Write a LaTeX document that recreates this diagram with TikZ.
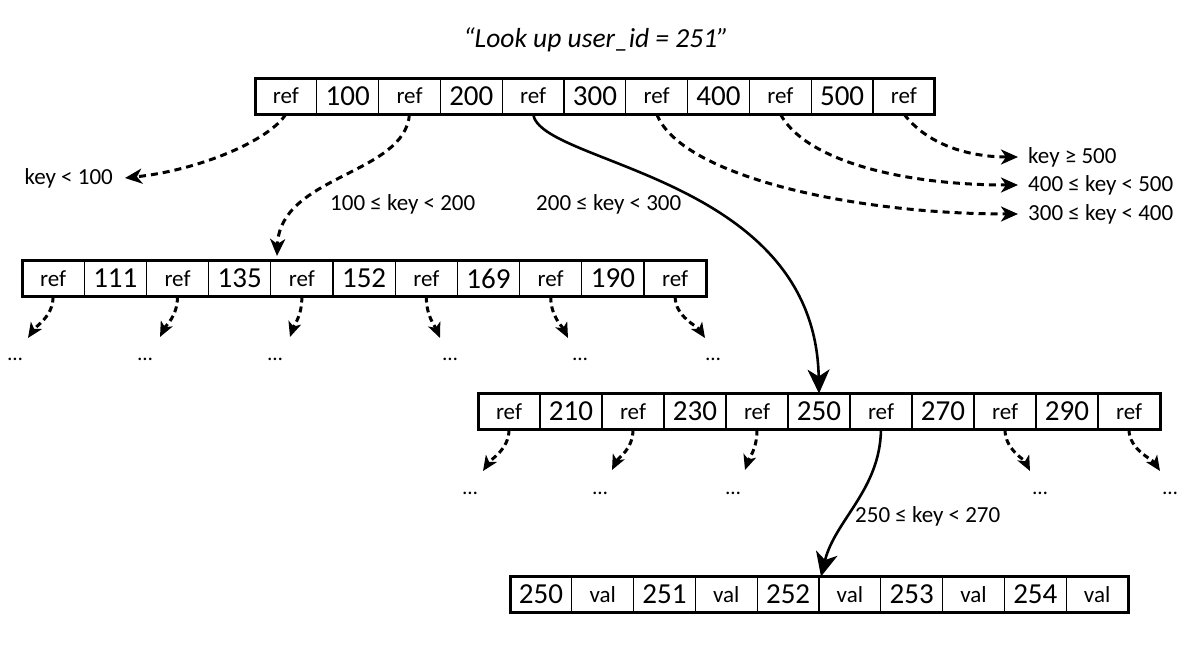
\documentclass[tikz,border=0pt]{standalone}
\usepackage{fontspec}
\setmainfont{Carlito}
\usetikzlibrary{arrows.meta}
\begin{document}
\begin{tikzpicture}[x=1pt,y=-1pt,
  cell/.style={draw, line width=1.1pt, minimum height=36pt, inner sep=0pt, outer sep=0pt, anchor=west},
  num/.style={font=\fontsize{29}{30}\selectfont},
  small/.style={font=\fontsize{23}{24}\selectfont},
  lbl/.style={font=\fontsize{23}{24}\selectfont, inner sep=2pt},
  dots/.style={font=\fontsize{21}{24}\selectfont, inner sep=0pt},
  outline/.style={draw, line width=3pt},
  dasharr/.style={line width=3pt, dash pattern=on 7pt off 5pt, -{Stealth[length=17pt,width=15pt,inset=5pt]}},
  shortarr/.style={line width=3pt, dash pattern=on 6pt off 4pt, -{Stealth[length=15pt,width=13pt,inset=4pt]}},
  solidarr/.style={line width=2.6pt, -{Stealth[length=24pt,width=22pt,inset=7pt]}}
]
\useasboundingbox (0,0) rectangle (1200,645);

% title
\node[font=\itshape\fontsize{27.5}{30}\selectfont] (title) at (596,40) {“Look up user\_id = 251”};

% row 1 (root)
\foreach \t/\f [count=\i] in {ref/small,100/num,ref/small,200/num,ref/small,300/num,ref/small,400/num,ref/small,500/num,ref/small}
  \node[cell, \f, minimum width=61.8pt] (a\i) at ({255+(\i-1)*61.8},96) {\t};
\draw[outline] (a1.north west) rectangle (a11.south east);

% row 2
\foreach \t/\f [count=\i] in {ref/small,111/num,ref/small,135/num,ref/small,152/num,ref/small,169/num,ref/small,190/num,ref/small}
  \node[cell, \f, minimum width=62.2pt] (b\i) at ({22+(\i-1)*62.2},278.5) {\t};
\draw[outline] (b1.north west) rectangle (b11.south east);

% row 3
\foreach \t/\f [count=\i] in {ref/small,210/num,ref/small,230/num,ref/small,250/num,ref/small,270/num,ref/small,290/num,ref/small}
  \node[cell, \f, minimum width=62pt] (c\i) at ({478+(\i-1)*62},411.5) {\t};
\draw[outline] (c1.north west) rectangle (c11.south east);

% row 4 (leaf)
\foreach \t/\f [count=\i] in {250/num,val/small,251/num,val/small,252/num,val/small,253/num,val/small,254/num,val/small}
  \node[cell, \f, minimum width=61.8pt] (d\i) at ({510+(\i-1)*61.8},594.5) {\t};
\draw[outline] (d1.north west) rectangle (d10.south east);

% labels
\node[lbl, anchor=east] (k100) at (115,178) {key < 100};
\node[lbl, anchor=west] (k200) at (328,204) {100 ≤ key < 200};
\node[lbl, anchor=west] (k300) at (534,204) {200 ≤ key < 300};
\node[lbl, anchor=west] (k500) at (1026,157) {key ≥ 500};
\node[lbl, anchor=west] (k450) at (1026,185) {400 ≤ key < 500};
\node[lbl, anchor=west] (k400) at (1026,214) {300 ≤ key < 400};
\node[lbl, anchor=west] (k270) at (853,516) {250 ≤ key < 270};

% arrows from root
\draw[dasharr] (a1.south) .. controls (270,140) and (200,170) .. ([xshift=10pt]k100.east);
\coordinate (t2) at (277,256);
\draw[dasharr] (a3.south) .. controls (405,175) and (280,175) .. (t2);
\draw[solidarr] (a5.south) .. controls (540,165) and (815,175) .. (c6.north);
\draw[dasharr] (a7.south) .. controls (680,175) and (850,214) .. ([xshift=-8pt]k400.west);
\draw[dasharr] (a9.south) .. controls (805,160) and (900,185) .. ([xshift=-8pt]k450.west);
\draw[dasharr] (a11.south) .. controls (930,148) and (975,157) .. ([xshift=-8pt]k500.west);

% row 2 children
\coordinate (u1) at (28,338);
\coordinate (u3) at (160,337);
\coordinate (u5) at (290,337);
\coordinate (u7) at (440,338);
\coordinate (u9) at (568,338);
\coordinate (u11) at (705,338);
\foreach \i/\dx in {1/8,3/6,5/4}
  \draw[shortarr] (b\i.south) .. controls +(0,20) and +(\dx,-12) .. (u\i);
\foreach \i/\dx in {7/-5,9/-6,11/-8}
  \draw[shortarr] (b\i.south) .. controls +(0,20) and +(\dx,-12) .. (u\i);
\node[dots] (e1) at (15,359) {…};
\node[dots] (e3) at (145,359) {…};
\node[dots] (e5) at (275,359) {…};
\node[dots] (e7) at (450,359) {…};
\node[dots] (e9) at (580,359) {…};
\node[dots] (e11) at (713,359) {…};

% row 3 children
\coordinate (v1) at (483,471);
\coordinate (v3) at (612,470);
\coordinate (v5) at (745,470);
\coordinate (v9) at (1030,471);
\coordinate (v11) at (1160,471);
\foreach \i/\dx in {1/8,3/6,5/4}
  \draw[shortarr] (c\i.south) .. controls +(0,20) and +(\dx,-12) .. (v\i);
\foreach \i/\dx in {9/-6,11/-8}
  \draw[shortarr] (c\i.south) .. controls +(0,20) and +(\dx,-12) .. (v\i);
\node[dots] (f1) at (470,493) {…};
\node[dots] (f3) at (600,493) {…};
\node[dots] (f5) at (733,493) {…};
\node[dots] (f9) at (1040,493) {…};
\node[dots] (f11) at (1170,493) {…};

% to leaf
\draw[solidarr] (c7.south) .. controls (880,490) and (835,520) .. ([xshift=2pt]d5.north east);
\end{tikzpicture}
\end{document}
